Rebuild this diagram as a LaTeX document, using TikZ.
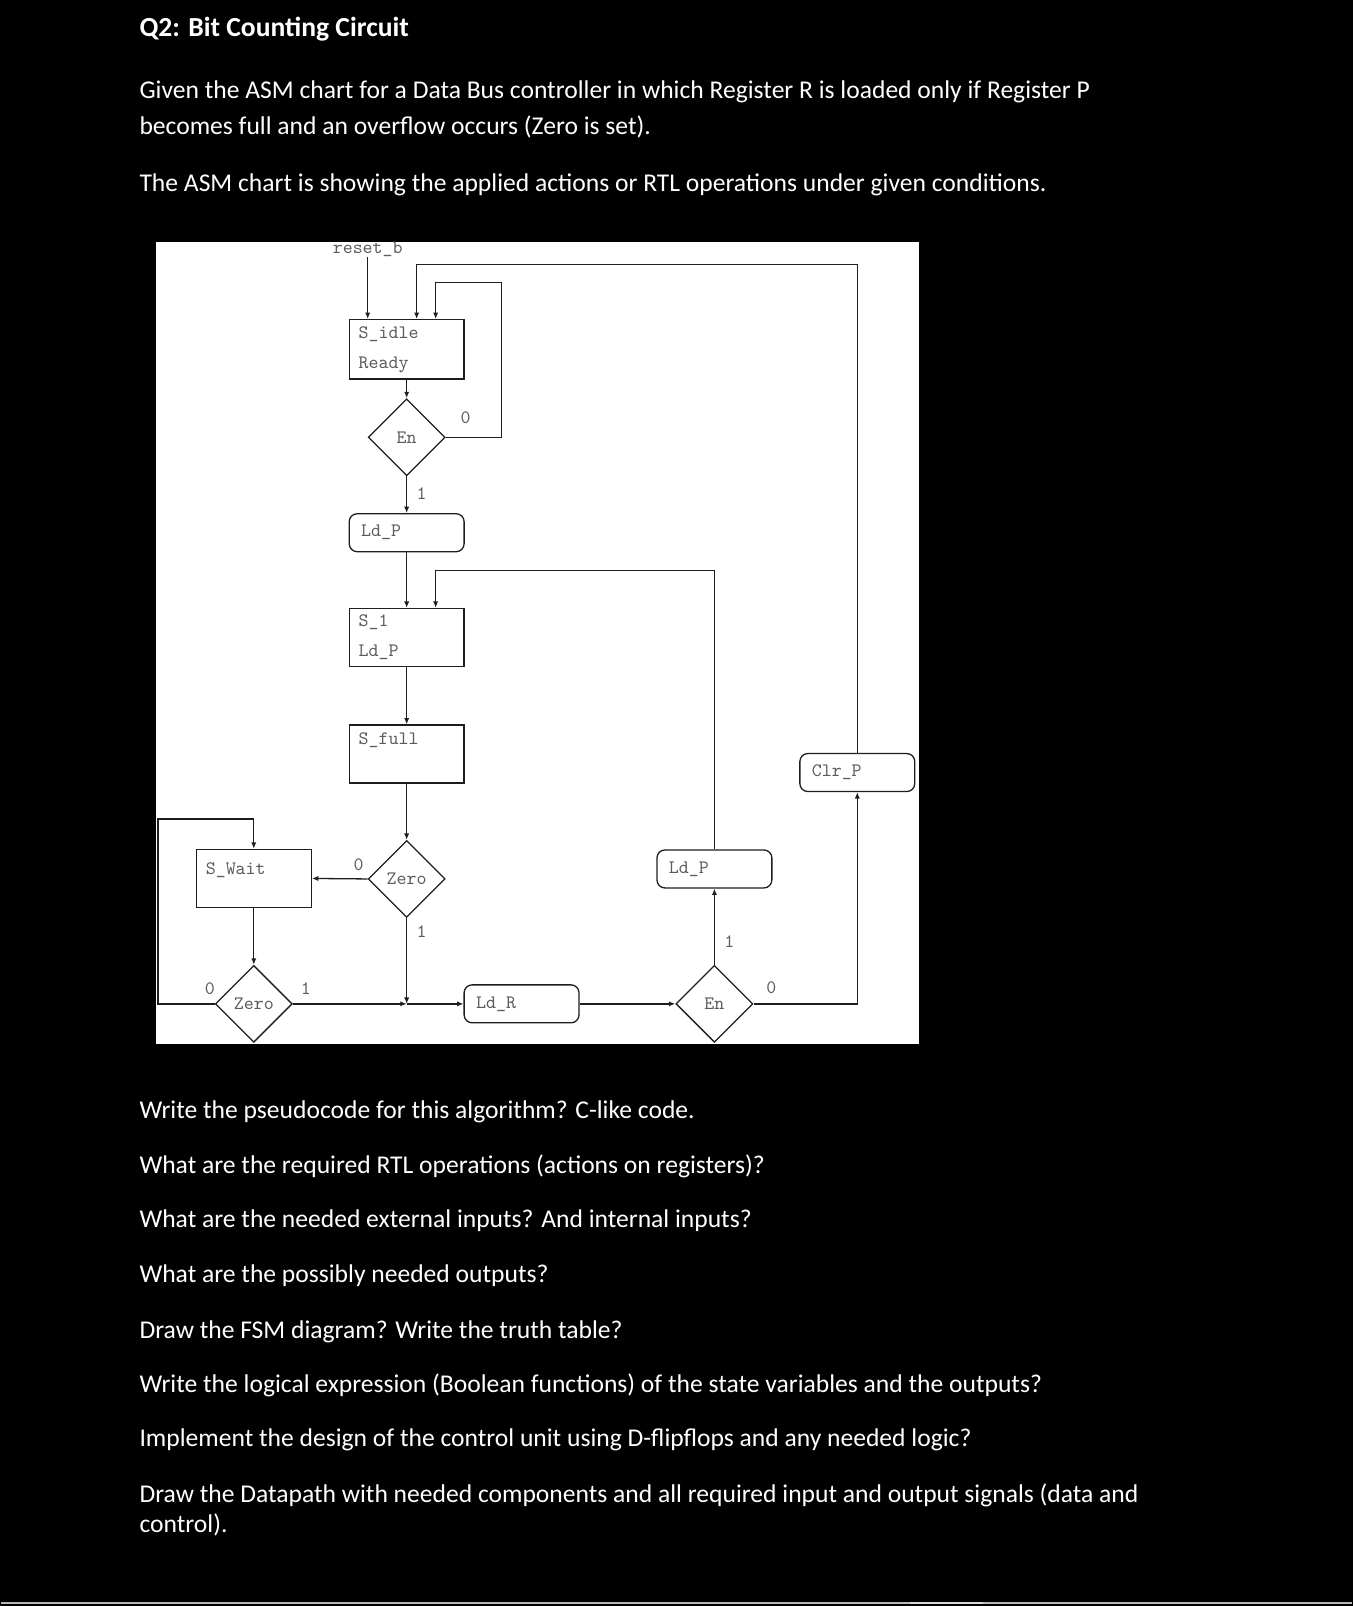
\documentclass[tikz,border=0pt]{standalone}
\usepackage{fontspec}
\setmainfont{Carlito}
\usetikzlibrary{arrows.meta,shapes.geometric}
\definecolor{chartgray}{HTML}{5C5C5C}
\definecolor{lineblack}{HTML}{1E1E1E}
\tikzset{
  state/.style={draw=lineblack, line width=0.65pt, rectangle, minimum width=57.5pt, minimum height=29pt,
    text width=48pt, inner xsep=4.75pt, align=left, text=chartgray, font=\ttfamily\fontsize{9.5}{15}\selectfont},
  condout/.style={state, rounded corners=4pt, minimum height=19pt, text width=45.5pt, inner xsep=6pt},
  decision/.style={draw=lineblack, line width=0.65pt, diamond, aspect=1, minimum width=38.5pt,
    minimum height=38.5pt, inner sep=0pt, text=chartgray, font=\ttfamily\fontsize{9.5}{10}\selectfont},
  lbl/.style={inner sep=0pt, text=chartgray, font=\ttfamily\fontsize{9.5}{10}\selectfont},
  para/.style={anchor=base west, inner sep=0pt, text=white, font=\fontsize{12.8}{15}\selectfont},
}
\begin{document}
\begin{tikzpicture}[x=0.5pt, y=-0.5pt, >={Latex[length=3.2pt,width=2.6pt]},
  every path/.style={draw=lineblack, line width=0.65pt}]
% page and chart panel
\fill[black] (0,0) rectangle (1352,1606);
\fill[white] (156,242) rectangle (918,1044);
\draw[draw=gray!55, line width=1pt] (0,1604) -- (1352,1604);
\draw[draw=gray!30, line width=1pt] (910,1604) -- (983,1604);

% question text
\node[para, font=\bfseries\fontsize{13.8}{15}\selectfont] (title) at (138,36) {Q2: Bit Counting Circuit};
\node[para] (intro1) at (138,98) {Given the ASM chart for a Data Bus controller in which Register R is loaded only if Register P};
\node[para] (intro2) at (138,134) {becomes full and an overflow occurs (Zero is set).};
\node[para] (intro3) at (138,191) {The ASM chart is showing the applied actions or RTL operations under given conditions.};

% states, decisions and conditional outputs
\node[lbl] (reset) at (367,249) {reset\_b};
\node[state] (idle) at (406,349) {S\_idle\\Ready};
\node[decision] (en1) at (406,437) {En};
\node[condout] (ldP1) at (406,532.5) {Ld\_P};
\node[state] (s1) at (406,637.5) {S\_1\\Ld\_P};
\node[state] (sfull) at (406,754) {S\_full\\\mbox{}};
\node[decision] (zero1) at (406,879) {Zero};
\node[state] (wait) at (253,878.5) {S\_Wait\\[-5pt]\mbox{}};
\node[decision] (zero2) at (253,1004) {Zero};
\node[condout] (ldR) at (521,1004) {Ld\_R};
\node[decision] (en2) at (714,1004) {En};
\node[condout] (ldP2) at (714,869) {Ld\_P};
\node[condout] (clrP) at (857,772.5) {Clr\_P};

% branch values
\node[lbl] (en1no) at (465,417) {0};
\node[lbl] (en1yes) at (421,493) {1};
\node[lbl] (zero1no) at (358,865) {0};
\node[lbl] (zero1yes) at (421,932) {1};
\node[lbl] (zero2no) at (209,989) {0};
\node[lbl] (zero2yes) at (305,989) {1};
\node[lbl] (en2yes) at (729,942) {1};
\node[lbl] (en2no) at (771,988) {0};

\coordinate (topL) at (416,264);
\coordinate (innerR) at (501,282);
\coordinate (innerL) at (435,282);
\coordinate (midL) at (435,570);
\coordinate (leftT) at (157,819);
\coordinate (join) at (zero1.south |- ldR.west);

% connectors
\draw[->] (reset.south) -- (reset.south |- idle.north);
\draw[->] (clrP.north) |- (topL) -- (topL |- idle.north);
\draw[->] (en1.east) -| (innerR) -- (innerL) -- (innerL |- idle.north);
\draw[->] (idle.south) -- (en1.north);
\draw[->] (en1.south) -- (ldP1.north);
\draw[->] (ldP1.south) -- (s1.north);
\draw[->] (ldP2.north) |- (midL) -- (midL |- s1.north);
\draw[->] (s1.south) -- (sfull.north);
\draw[->] (sfull.south) -- (zero1.north);
\draw[->] (zero1.west) -- (wait.east);
\draw[->] (zero1.south) -- (join);
\draw[->] (wait.south) -- (zero2.north);
\draw[->] (zero2.west) -| (leftT) -| (wait.north);
\draw[->] (zero2.east) -- (join);
\draw[->] (join) -- (ldR.west);
\draw[->] (ldR.east) -- (en2.west);
\draw[->] (en2.north) -- (ldP2.south);
\draw[->] (en2.east) -| (clrP.south);

% questions
\node[para] (q1) at (138,1119) {Write the pseudocode for this algorithm? C-like code.};
\node[para] (q2) at (138,1174) {What are the required RTL operations (actions on registers)?};
\node[para] (q3) at (138,1228) {What are the needed external inputs? And internal inputs?};
\node[para] (q4) at (138,1283) {What are the possibly needed outputs?};
\node[para] (q5) at (138,1339) {Draw the FSM diagram? Write the truth table?};
\node[para] (q6) at (138,1393) {Write the logical expression (Boolean functions) of the state variables and the outputs?};
\node[para] (q7) at (138,1447) {Implement the design of the control unit using D-flipflops and any needed logic?};
\node[para] (q8) at (138,1503) {Draw the Datapath with needed components and all required input and output signals (data and};
\node[para] (q9) at (138,1533) {control).};
\end{tikzpicture}
\end{document}
